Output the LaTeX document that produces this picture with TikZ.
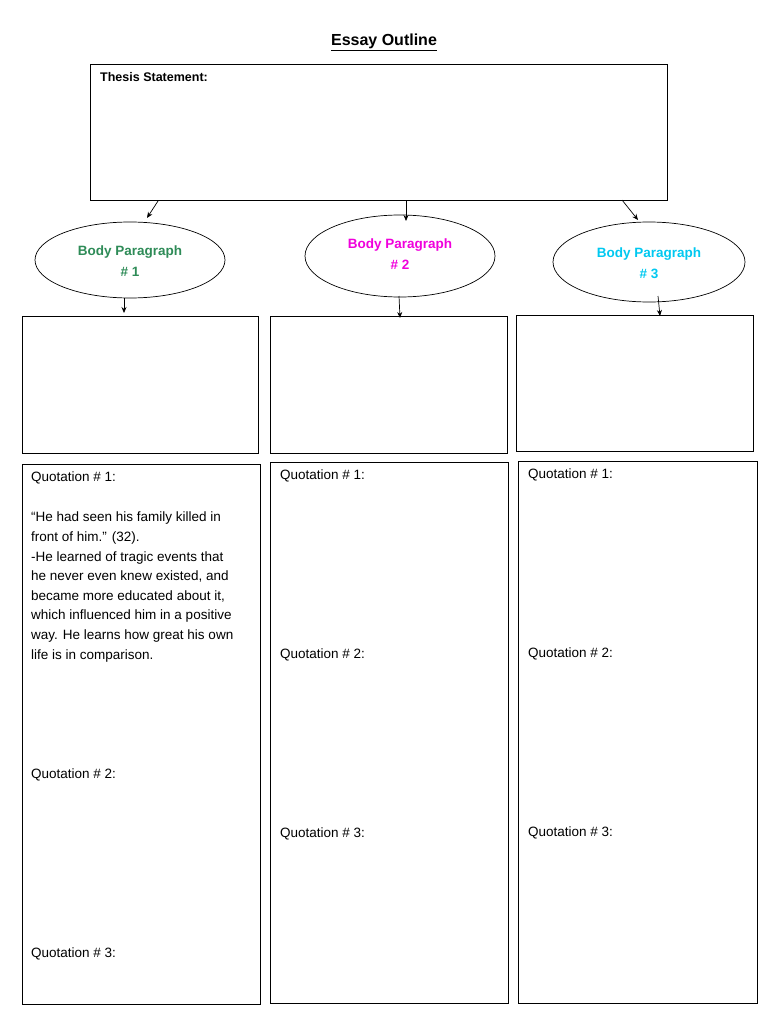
\documentclass[tikz,border=0pt]{standalone}
\usepackage{fontspec}
\setmainfont{Liberation Sans}
\usetikzlibrary{arrows.meta,shapes.geometric}
\begin{document}
\begin{tikzpicture}[x=1pt,y=-1pt,
 box/.style={draw,line width=0.7pt},
 ell/.style={draw,ellipse,line width=0.7pt},
 arr/.style={-{Stealth[length=6pt,width=5pt]},line width=0.7pt},
 txt/.style={anchor=north west,font=\fontsize{13.5}{19.6}\selectfont,align=left,inner sep=0pt},
 bp/.style={font=\fontsize{13.5}{21}\selectfont\bfseries,align=center}]
\useasboundingbox (0,0) rectangle (768,1024);
\node (title) at (384,42) {\fontsize{16}{18}\selectfont\bfseries\underline{Essay Outline}};
\draw[box] (90,64) rectangle (667,200);
\node[txt,font=\fontsize{12.5}{14}\selectfont\bfseries] (ts) at (100,72) {Thesis Statement:};
\node[ell,minimum width=190pt,minimum height=76pt] (e1) at (130,260) {};
\node[bp,text={rgb,255:red,46;green,139;blue,87}] at (130,261) {Body Paragraph\\\# 1};
\node[ell,minimum width=190pt,minimum height=82pt] (e2) at (400,256) {};
\node[bp,text={rgb,255:red,240;green,0;blue,220}] at (400,254) {Body Paragraph\\\# 2};
\node[ell,minimum width=192pt,minimum height=80pt] (e3) at (649,262) {};
\node[bp,text={rgb,255:red,0;green,200;blue,240}] at (649,263) {Body Paragraph\\\# 3};
\coordinate (t1) at (158,201); \coordinate (t2) at (406,201); \coordinate (t3) at (622,200);
\draw[arr] (t1) -- (147,218);
\draw[arr] (t2) -- (406,221);
\draw[arr] (t3) -- (638,220);
\draw[box] (22,316) rectangle (258,453);
\draw[box] (270,316) rectangle (507,453);
\draw[box] (516,315) rectangle (753,451);
\coordinate (b1) at (124,298); \coordinate (b2) at (399,296); \coordinate (b3) at (658,296);
\draw[arr] (b1) -- (124,313);
\draw[arr] (b2) -- (400,318);
\draw[arr] (b3) -- (660,316);
\draw[box] (22,464) rectangle (260,1004);
\draw[box] (270,462) rectangle (508,1003);
\draw[box] (518,461) rectangle (757,1003);
\node[txt] at (31,472) {Quotation \# 1:};
\node[txt] at (31,512) {“He had seen his family killed in\\front of him.” (32).\\-He learned of tragic events that\\he never even knew existed, and\\became more educated about it,\\which influenced him in a positive\\way. He learns how great his own\\life is in comparison.};
\node[txt] at (31,769) {Quotation \# 2:};
\node[txt] at (31,948) {Quotation \# 3:};
\node[txt] at (280,470) {Quotation \# 1:};
\node[txt] at (280,649) {Quotation \# 2:};
\node[txt] at (280,828) {Quotation \# 3:};
\node[txt] at (528,469) {Quotation \# 1:};
\node[txt] at (528,648) {Quotation \# 2:};
\node[txt] at (528,827) {Quotation \# 3:};
\end{tikzpicture}
\end{document}
